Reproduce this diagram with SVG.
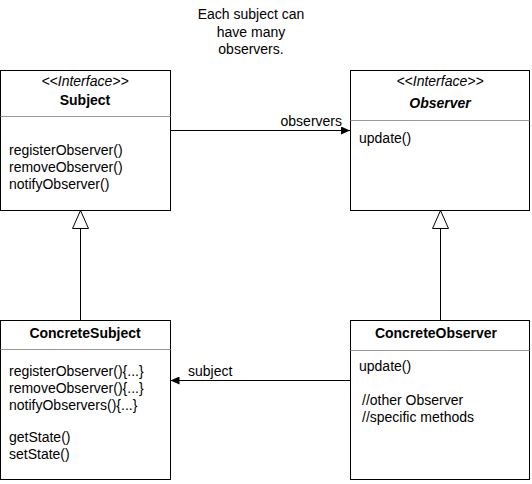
<svg xmlns="http://www.w3.org/2000/svg" width="532" height="484" viewBox="0 0 532 484">
<style>
text{font-family:"Liberation Sans",Arial,sans-serif;font-size:14px;fill:#000}
.c{text-anchor:middle}
.b{font-weight:bold}
.i{font-style:italic}
.box{fill:#fff;stroke:#000;stroke-width:1}
.div{stroke:#999;stroke-width:1}
.ln{stroke:#000;stroke-width:1;fill:none}
.tri{fill:#fff;stroke:#000;stroke-width:1}
</style>
<defs>
<marker id="ah" markerWidth="10" markerHeight="8" refX="9" refY="4" orient="auto" markerUnits="userSpaceOnUse">
<path d="M0,0 L9,4 L0,8 Z" fill="#000"/>
</marker>
</defs>
<text class="c" x="251" y="19">Each subject can</text>
<text class="c" x="251" y="37">have many</text>
<text class="c" x="251" y="54">observers.</text>
<g id="connectors">
<line class="ln" x1="170" y1="130.5" x2="350" y2="130.5" marker-end="url(#ah)"/>
<text x="342" y="126" text-anchor="end">observers</text>
<line class="ln" x1="350" y1="380.5" x2="170.5" y2="380.5" marker-end="url(#ah)"/>
<text x="188" y="376">subject</text>
<line class="ln" x1="80.5" y1="320" x2="80.5" y2="228"/>
<path class="tri" d="M80.5,210.5 L72.5,228.5 L88.5,228.5 Z"/>
<line class="ln" x1="440.5" y1="320" x2="440.5" y2="228"/>
<path class="tri" d="M440.5,210.5 L432.5,228.5 L448.5,228.5 Z"/>
</g>
<g id="subject">
<rect class="box" x="0.5" y="70.5" width="170" height="140"/>
<line class="div" x1="0.5" y1="116.5" x2="170.5" y2="116.5"/>
<text class="c i" x="85" y="86">&lt;&lt;Interface&gt;&gt;</text>
<text class="c b" x="85" y="105">Subject</text>
<text x="9" y="155">registerObserver()</text>
<text x="9" y="172">removeObserver()</text>
<text x="9" y="189">notifyObserver()</text>
</g>
<g id="observer">
<rect class="box" x="350.5" y="70.5" width="179" height="140"/>
<line class="div" x1="350.5" y1="120.5" x2="529.5" y2="120.5"/>
<text class="c i" x="440" y="86">&lt;&lt;Interface&gt;&gt;</text>
<text class="c b i" x="440" y="108">Observer</text>
<text x="359" y="143">update()</text>
</g>
<g id="concreteSubject">
<rect class="box" x="0.5" y="320.5" width="170" height="159"/>
<line class="div" x1="0.5" y1="349.5" x2="170.5" y2="349.5"/>
<text class="c b" x="85" y="338">ConcreteSubject</text>
<text x="9" y="376">registerObserver(){...}</text>
<text x="9" y="393">removeObserver(){...}</text>
<text x="9" y="410">notifyObservers(){...}</text>
<text x="9" y="442">getState()</text>
<text x="9" y="459">setState()</text>
</g>
<g id="concreteObserver">
<rect class="box" x="350.5" y="320.5" width="179" height="159"/>
<line class="div" x1="350.5" y1="350.5" x2="529.5" y2="350.5"/>
<text class="c b" x="436" y="338">ConcreteObserver</text>
<text x="359" y="371">update()</text>
<text x="362" y="405">//other Observer</text>
<text x="362" y="422">//specific methods</text>
</g>
</svg>
